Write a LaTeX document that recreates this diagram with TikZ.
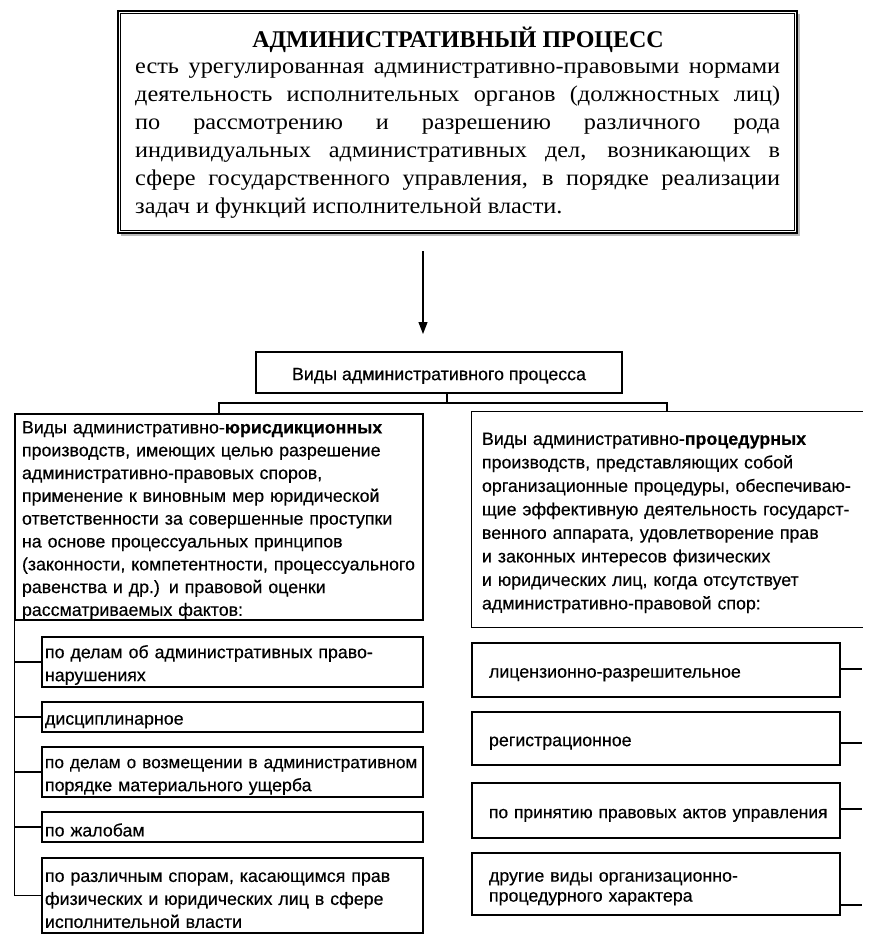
\documentclass[tikz,border=0pt]{standalone}
\usepackage{fontspec}
\setmainfont{Liberation Serif}
\setsansfont{Liberation Sans}[FakeBold=0.35]
\newfontfamily\topfont{Liberation Serif}[FakeStretch=1.08]
\usetikzlibrary{arrows.meta}
\newcommand\Ln[1]{\mbox{#1}}
\newcommand\tp{\rule{0pt}{19pt}}
\tikzset{
  box/.style={draw, line width=1.2pt, rectangle, inner ysep=0pt, align=left,
    font={\sffamily\fontsize{17.8}{23}\selectfont}},
  lsub/.style={box, minimum width=381pt, inner xsep=3pt, text width=375pt},
  rsub/.style={box, minimum width=368pt, inner xsep=17pt, text width=334pt},
  conn/.style={line width=1.2pt},
}
\begin{document}
\begin{tikzpicture}[x=1pt,y=-1pt]
\useasboundingbox (0,0) rectangle (880,944);
\fill[white] (0,0) rectangle (880,944);
% top framed box
\fill[gray!55] (121,14) rectangle (800,236);
\node[draw, fill=white, line width=2.4pt, minimum width=679pt, minimum height=222pt, inner sep=0pt] (top) at (457.5,122) {};
\draw[line width=0.8pt] ([shift={(4pt,-4pt)}]top.north west) rectangle ([shift={(-4pt,4pt)}]top.south east);
\node[anchor=base, inner sep=0pt, font={\bfseries\fontsize{24}{28}\selectfont}] (title) at (458,48) {АДМИНИСТРАТИВНЫЙ ПРОЦЕСС};
\node[anchor=north west, inner sep=0pt, text width=645pt, align=justify,
  font={\topfont\fontsize{22.5}{28}\selectfont}] (body) at (135,54)
{\strut есть урегулированная административно-правовыми нормами\linebreak
деятельность исполнительных органов (должностных лиц)\linebreak
по рассмотрению и разрешению различного рода\linebreak
индивидуальных административных дел, возникающих в\linebreak
сфере государственного управления, в порядке реализации\linebreak
задач и функций исполнительной власти.};
% arrow
\coordinate (a1) at (423,251);
\coordinate (a2) at (423,334);
\draw[conn, -{Triangle[length=12pt,width=9pt]}] (a1) -- (a2);
% kinds box
\node[box, align=center, minimum width=366pt, minimum height=41pt] (kinds) at (439,372.5) {\tp Виды административного процесса};
% big left box
\node[box, minimum width=408pt, minimum height=206pt, inner xsep=7pt, text width=394pt,
  font={\sffamily\fontsize{17.8}{22.8}\selectfont}] (L) at (219,517)
{\tp\Ln{Виды административно-\textbf{юрисдикционных}}\\
\Ln{производств, имеющих целью разрешение}\\
\Ln{административно-правовых споров,}\\
\Ln{применение к виновным мер юридической}\\
\Ln{ответственности за совершенные проступки}\\
\Ln{на основе процессуальных принципов}\\
\Ln{(законности, компетентности, процессуального}\\
\Ln{равенства и др.) и правовой оценки}\\
\Ln{рассматриваемых фактов:}};
% big right box (open on the right)
\node[box, draw=none, minimum width=390pt, minimum height=215pt, inner xsep=10pt, text width=370pt,
  font={\sffamily\fontsize{17.8}{23.5}\selectfont}] (R) at (667,519.5)
{\tp\Ln{Виды административно-\textbf{процедурных}}\\
\Ln{производств, представляющих собой}\\
\Ln{организационные процедуры, обеспечиваю-}\\
\Ln{щие эффективную деятельность государст-}\\
\Ln{венного аппарата, удовлетворение прав}\\
\Ln{и законных интересов физических}\\
\Ln{и юридических лиц, когда отсутствует}\\
\Ln{административно-правовой спор:}};
\draw[conn] (R.north east) -- (R.north west) -- (R.south west) -- (R.south east);
% connectors from kinds
\coordinate (kx) at (447,403);
\draw[conn] (kx |- kinds.south) -- (kx);
\draw[conn] (L.north) -- (L.north |- kx) -- (kx -| R.north) -- (R.north);
% left sub-boxes
\node[lsub, minimum height=50pt] (l1) at (232.5,662) {\tp\Ln{по делам об административных право-}\\\Ln{нарушениях}};
\node[lsub, minimum height=30pt] (l2) at (232.5,717) {\tp\Ln{дисциплинарное}};
\node[lsub, minimum height=50pt] (l3) at (232.5,772) {\tp\Ln{\fontsize{17.3}{23}\selectfont по делам о возмещении в административном}\\\Ln{порядке материального ущерба}};
\node[lsub, minimum height=30pt] (l4) at (232.5,827) {\tp\Ln{по жалобам}};
\node[lsub, minimum height=75pt] (l5) at (232.5,895.5) {\tp\Ln{по различным спорам, касающимся прав}\\\Ln{физических и юридических лиц в сфере}\\\Ln{исполнительной власти}};
\draw[conn] (L.south west) -- (L.south west |- l5.west);
\foreach \n in {l1,l2,l3,l4,l5} \draw[conn] (\n.west -| L.west) -- (\n.west);
% right sub-boxes
\node[rsub, minimum height=54pt] (r1) at (656,670) {\tp\Ln{лицензионно-разрешительное}};
\node[rsub, minimum height=53pt] (r2) at (656,738.5) {\tp\Ln{регистрационное}};
\node[rsub, minimum height=55pt] (r3) at (656,810.5) {\tp\Ln{\fontsize{17.4}{23}\selectfont по принятию правовых актов управления}};
\node[rsub, minimum height=62pt, font={\sffamily\fontsize{17.8}{20}\selectfont}] (r4) at (656,884) {\tp\Ln{другие виды организационно-}\\\Ln{процедурного характера}};
\coordinate (re1) at (862,669);
\coordinate (re2) at (862,743);
\coordinate (re3) at (862,809);
\coordinate (re4) at (862,905);
\draw[conn] (re1 -| r1.east) -- (re1);
\draw[conn] (re2 -| r2.east) -- (re2);
\draw[conn] (re3 -| r3.east) -- (re3);
\draw[conn] (re4 -| r4.east) -- (re4);
\end{tikzpicture}
\end{document}
